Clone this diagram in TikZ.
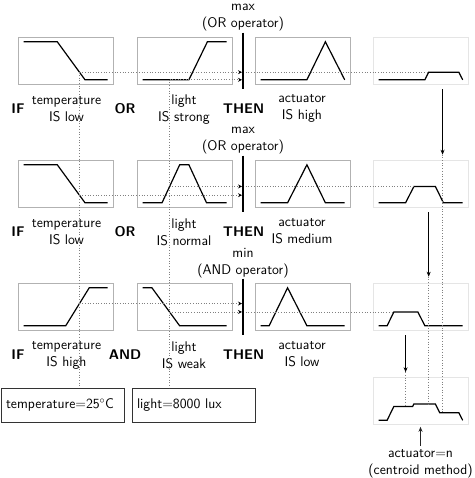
\documentclass[tikz,border=0pt]{standalone}
\usepackage{fontspec}
\usetikzlibrary{arrows.meta,calc}

\tikzset{
  plotbox/.style={draw=gray!60, line width=0.6pt, minimum width=95pt, minimum height=47pt, inner sep=0pt},
  outbox/.style={plotbox, draw=gray!20},
  inbox/.style={draw=black!80, line width=0.8pt, minimum height=34pt, text width=113pt, inner xsep=5pt, align=left},
  inplot/.style={shift={(#1.south west)}, xshift=6pt, yshift=4.5pt, x=84pt, y=38pt},
  mf/.style={line width=1.2pt},
  dotline/.style={gray, line width=0.7pt, dotted},
  barin/.style={dotline, -{Stealth[length=4pt, width=4pt, black]}, shorten >=1pt},
  opbar/.style={line width=2pt},
  flow/.style={-{Stealth[length=5pt, width=4pt]}, line width=0.7pt},
  resarrow/.style={flow, black!85, line width=1.1pt, shorten >=2pt},
  kw/.style={font=\sffamily\bfseries\fontsize{14}{17}\selectfont},
  lbl/.style={align=center}
}

\begin{document}
\begin{tikzpicture}[x=1pt, y=-1pt,
    every node/.style={font=\sffamily\fontsize{14}{17}\selectfont}]
    \useasboundingbox (0,0) rectangle (474,478);

    % boxes of the three rules
    \foreach \r/\y in {1/60.5, 2/183.5, 3/306.5} {
        \node[plotbox] (tb\r) at (65.5,\y) {};
        \node[plotbox] (lb\r) at (184.5,\y) {};
        \node[plotbox] (ab\r) at (302.5,\y) {};
        \node[outbox] (rb\r) at (420.5,\y) {};
        \coordinate (bar\r) at (243,\y);
    }
    \node[outbox] (fb) at (420.5,401) {};

    % inputs
    \node[inbox] (tin) at (62.5,405) {temperature=25$^\circ$C};
    \node[inbox] (lin) at (193.5,405) {light=8000 lux};

    % rule texts
    \node[lbl] (op1) at (243,18) {max\\(OR operator)};
    \node[kw] (if1) at (18,109) {IF};
    \node[lbl] (tl1) at (66.5,109.5) {temperature\\IS low};
    \node[kw] (or1) at (125,109) {OR};
    \node[lbl] (ll1) at (184,109.5) {light\\IS strong};
    \node[kw] (then1) at (243.5,109) {THEN};
    \node[lbl] (al1) at (302,108.5) {actuator\\IS high};

    \node[lbl] (op2) at (243,140.5) {max\\(OR operator)};
    \node[kw] (if2) at (18,232) {IF};
    \node[lbl] (tl2) at (66.5,232.5) {temperature\\IS low};
    \node[kw] (or2) at (125,232) {OR};
    \node[lbl] (ll2) at (184,232.5) {light\\IS normal};
    \node[kw] (then2) at (243.5,232) {THEN};
    \node[lbl] (al2) at (302,231.5) {actuator\\IS medium};

    \node[lbl] (op3) at (243,263.5) {min\\(AND operator)};
    \node[kw] (if3) at (18,354.5) {IF};
    \node[lbl] (tl3) at (66.5,355) {temperature\\IS high};
    \node[kw] (and3) at (125,354.5) {AND};
    \node[lbl] (ll3) at (184,355) {light\\IS weak};
    \node[kw] (then3) at (243.5,354.5) {THEN};
    \node[lbl] (al3) at (302,354) {actuator\\IS low};

    \node[lbl] (res) at (420.5,464) {actuator=n\\(centroid method)};

    % membership functions
    \begin{scope}[inplot=tb1]
        \draw[mf] (0,1) -- (0.40,1) -- (0.73,0) -- (1,0);
        \coordinate (tp1) at (0.664,0.2);
    \end{scope}
    \begin{scope}[inplot=tb2]
        \draw[mf] (0,1) -- (0.40,1) -- (0.73,0) -- (1,0);
        \coordinate (tp2) at (0.664,0.2);
    \end{scope}
    \begin{scope}[inplot=tb3]
        \draw[mf] (0,0) -- (0.50,0) -- (0.78,1) -- (1,1);
        \coordinate (tp3) at (0.664,0.586);
    \end{scope}
    \begin{scope}[inplot=lb1]
        \draw[mf] (0,0) -- (0.55,0) -- (0.77,1) -- (1,1);
        \coordinate (lp1) at (0.32,0);
    \end{scope}
    \begin{scope}[inplot=lb2]
        \draw[mf] (0,0) -- (0.23,0) -- (0.44,1) -- (0.55,1) -- (0.76,0) -- (1,0);
        \coordinate (lp2) at (0.32,0.43);
    \end{scope}
    \begin{scope}[inplot=lb3]
        \draw[mf] (0,1) -- (0.11,1) -- (0.44,0) -- (1,0);
        \coordinate (lp3) at (0.32,0.364);
    \end{scope}
    \begin{scope}[inplot=ab1]
        \draw[mf] (0,0) -- (0.55,0) -- (0.77,1) -- (1,0);
    \end{scope}
    \begin{scope}[inplot=ab2]
        \draw[mf] (0,0) -- (0.32,0) -- (0.55,1) -- (0.77,0) -- (1,0);
    \end{scope}
    \begin{scope}[inplot=ab3]
        \draw[mf] (0,0) -- (0.10,0) -- (0.32,1) -- (0.55,0) -- (1,0);
    \end{scope}
    % clipped outputs
    \begin{scope}[inplot=rb1]
        \draw[mf] (0,0) -- (0.55,0) -- (0.594,0.2) -- (0.954,0.2) -- (1,0);
        \coordinate (rp1) at (0.594,0.2);
    \end{scope}
    \begin{scope}[inplot=rb2]
        \draw[mf] (0,0) -- (0.32,0) -- (0.419,0.43) -- (0.675,0.43) -- (0.77,0) -- (1,0);
        \coordinate (rp2) at (0.419,0.43);
    \end{scope}
    \begin{scope}[inplot=rb3]
        \draw[mf] (0,0) -- (0.10,0) -- (0.18,0.364) -- (0.466,0.364) -- (0.55,0) -- (1,0);
        \coordinate (rp3) at (0.18,0.364);
    \end{scope}
    \begin{scope}[inplot=fb]
        \draw[mf] (0,0) -- (0.10,0) -- (0.18,0.364) -- (0.404,0.364) -- (0.419,0.43)
            -- (0.675,0.43) -- (0.726,0.2) -- (0.954,0.2) -- (1,0);
        \coordinate (f1) at (0.76,0.2);
        \coordinate (f2) at (0.595,0.43);
        \coordinate (f3) at (0.32,0.364);
    \end{scope}

    % inputs up to the first rule
    \draw[dotline] (tp1) -- (tp1 |- tin.north);
    \draw[dotline] (lp1) -- (lp1 |- lin.north);

    % degrees into the operators, result out
    \foreach \r in {1,2,3} {
        \draw[barin] (tp\r) -- (tp\r -| bar\r);
        \draw[barin] (lp\r) -- (lp\r -| bar\r);
        \draw[dotline] (rp\r -| bar\r) -- (rp\r);
        \draw[opbar] ([yshift=4pt]bar\r |- tb\r.north) -- ([yshift=-5pt]bar\r |- tb\r.south);
    }

    % collecting the outputs
    \coordinate (c1) at ([yshift=5pt]f1 |- rb2.north);
    \coordinate (c2) at ([yshift=6pt]f2 |- rb3.north);
    \coordinate (c3) at ([yshift=5pt]f3 |- fb.north);
    \draw[flow] ([yshift=-5pt]f1 |- rb1.south) -- (c1);
    \draw[flow] ([yshift=-5pt]f2 |- rb2.south) -- (c2);
    \draw[flow] ([yshift=-5pt]f3 |- rb3.south) -- (c3);
    \draw[dotline] (c1) -- (f1);
    \draw[dotline] (c2) -- (f2);
    \draw[dotline] (c3) -- (f3);

    \draw[resarrow] (res) -- (fb);
\end{tikzpicture}
\end{document}
